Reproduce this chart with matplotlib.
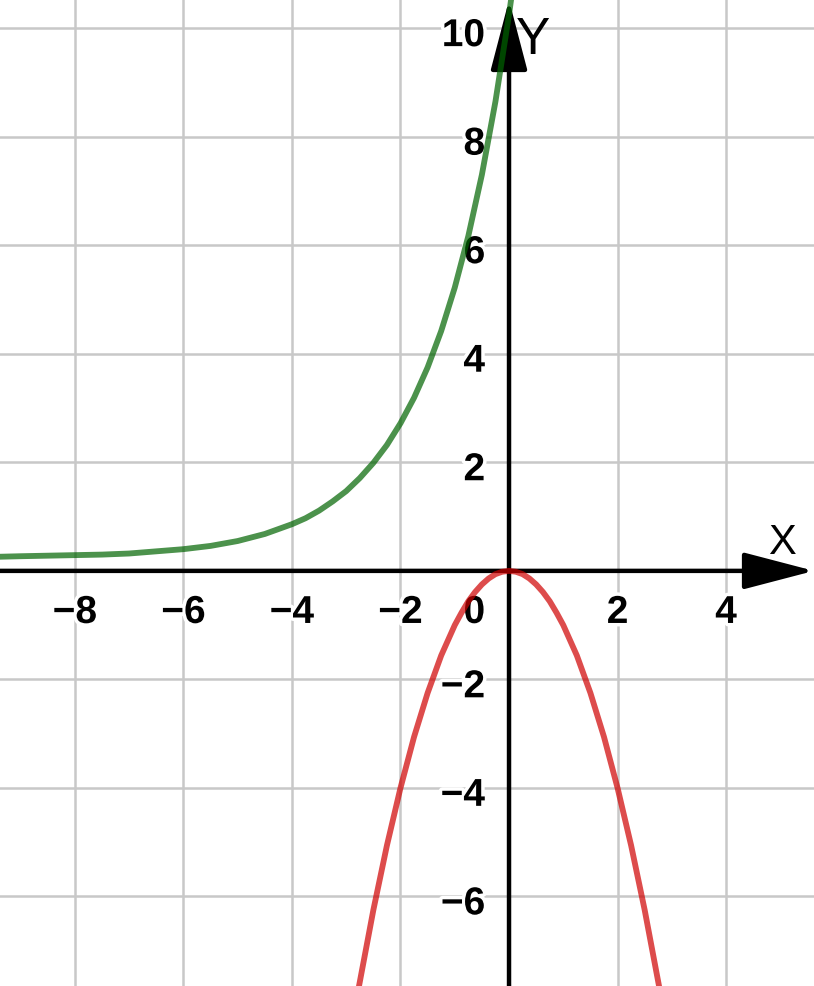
import matplotlib.pyplot as plt
import matplotlib.patheffects as pe

plt.rcParams['font.family'] = ['Liberation Sans', 'DejaVu Sans']

# values
green_x = [-9.4, -9, -8.5, -8, -7.5, -7, -6.5, -6, -5.5, -5, -4.5, -4, -3.75,
           -3.5, -3.25, -3, -2.75, -2.5, -2.25, -2, -1.75, -1.5, -1.25, -1,
           -0.75, -0.5, -0.25, 0, 0.1]
green_y = [0.26, 0.27, 0.28, 0.29, 0.30, 0.32, 0.36, 0.40, 0.46, 0.55, 0.68,
           0.86, 0.97, 1.11, 1.28, 1.47, 1.71, 1.99, 2.32, 2.72, 3.19, 3.75,
           4.42, 5.22, 6.17, 7.30, 8.65, 10.25, 10.98]

red_x = [-2.8, -2.5, -2.25, -2, -1.75, -1.5, -1.25, -1, -0.875, -0.75, -0.625,
         -0.5, -0.375, -0.25, -0.125, 0, 0.125, 0.25, 0.375, 0.5, 0.625, 0.75,
         0.875, 1, 1.25, 1.5, 1.75, 2, 2.25, 2.5, 2.8]
red_y = [-7.84, -6.25, -5.06, -4, -3.06, -2.25, -1.56, -1, -0.77, -0.56, -0.39,
         -0.25, -0.14, -0.06, -0.016, 0, -0.016, -0.06, -0.14, -0.25, -0.39, -0.56,
         -0.77, -1, -1.56, -2.25, -3.06, -4, -5.06, -6.25, -7.84]

x_ticks = [-8, -6, -4, -2, 2, 4]
y_ticks = [-6, -4, -2, 2, 4, 6, 8, 10]
x_lim = (-9.38, 5.62)
y_lim = (-7.65, 10.52)

fig = plt.figure(figsize=(8.14, 9.86), dpi=100)
ax = fig.add_axes([0, 0, 1, 1])
ax.set_xlim(*x_lim)
ax.set_ylim(*y_lim)
for s in ax.spines.values():
    s.set_visible(False)
ax.set_xticks(x_ticks)
ax.set_yticks(y_ticks)
ax.tick_params(length=0, labelbottom=False, labelleft=False)
ax.grid(True, color='#c8c8c8', lw=1.8)
ax.set_axisbelow(True)

# axes with arrow heads
arrow = dict(arrowstyle='-|>,head_length=4.4,head_width=1.15', mutation_scale=10,
             lw=3.2, color='black', shrinkA=0, shrinkB=0)
ax.annotate('', xy=(x_lim[1], 0), xytext=(x_lim[0], 0), arrowprops=arrow,
            annotation_clip=False, zorder=3)
ax.annotate('', xy=(0, y_lim[1]), xytext=(0, y_lim[0]), arrowprops=arrow,
            annotation_clip=False, zorder=3)

halo = [pe.withStroke(linewidth=5, foreground='white')]
tick_font = dict(fontsize=28, fontweight='bold', path_effects=halo, zorder=4)
for v in x_ticks:
    ax.text(v, -0.96, '\u2212%d' % -v if v < 0 else '%d' % v,
            ha='center', va='baseline', **tick_font)
for v in y_ticks:
    ax.text(-0.44, v - 0.33, '\u2212%d' % -v if v < 0 else '%d' % v,
            ha='right', va='baseline', **tick_font)
ax.text(-0.44, -0.96, '0', ha='right', va='baseline', **tick_font)

ax.text(5.03, 0.52, 'X', fontsize=30, ha='center', va='center', zorder=4)
ax.text(0.44, 9.77, 'Y', fontsize=37, ha='center', va='center', zorder=4)

ax.plot(green_x, green_y, color=(0, 100 / 255, 0), alpha=0.7, lw=4.2,
        solid_joinstyle='round', zorder=5)
ax.plot(red_x, red_y, color=(207 / 255, 0, 0), alpha=0.7, lw=4.2,
        solid_joinstyle='round', zorder=5)

fig.savefig('out.png', dpi=100)
